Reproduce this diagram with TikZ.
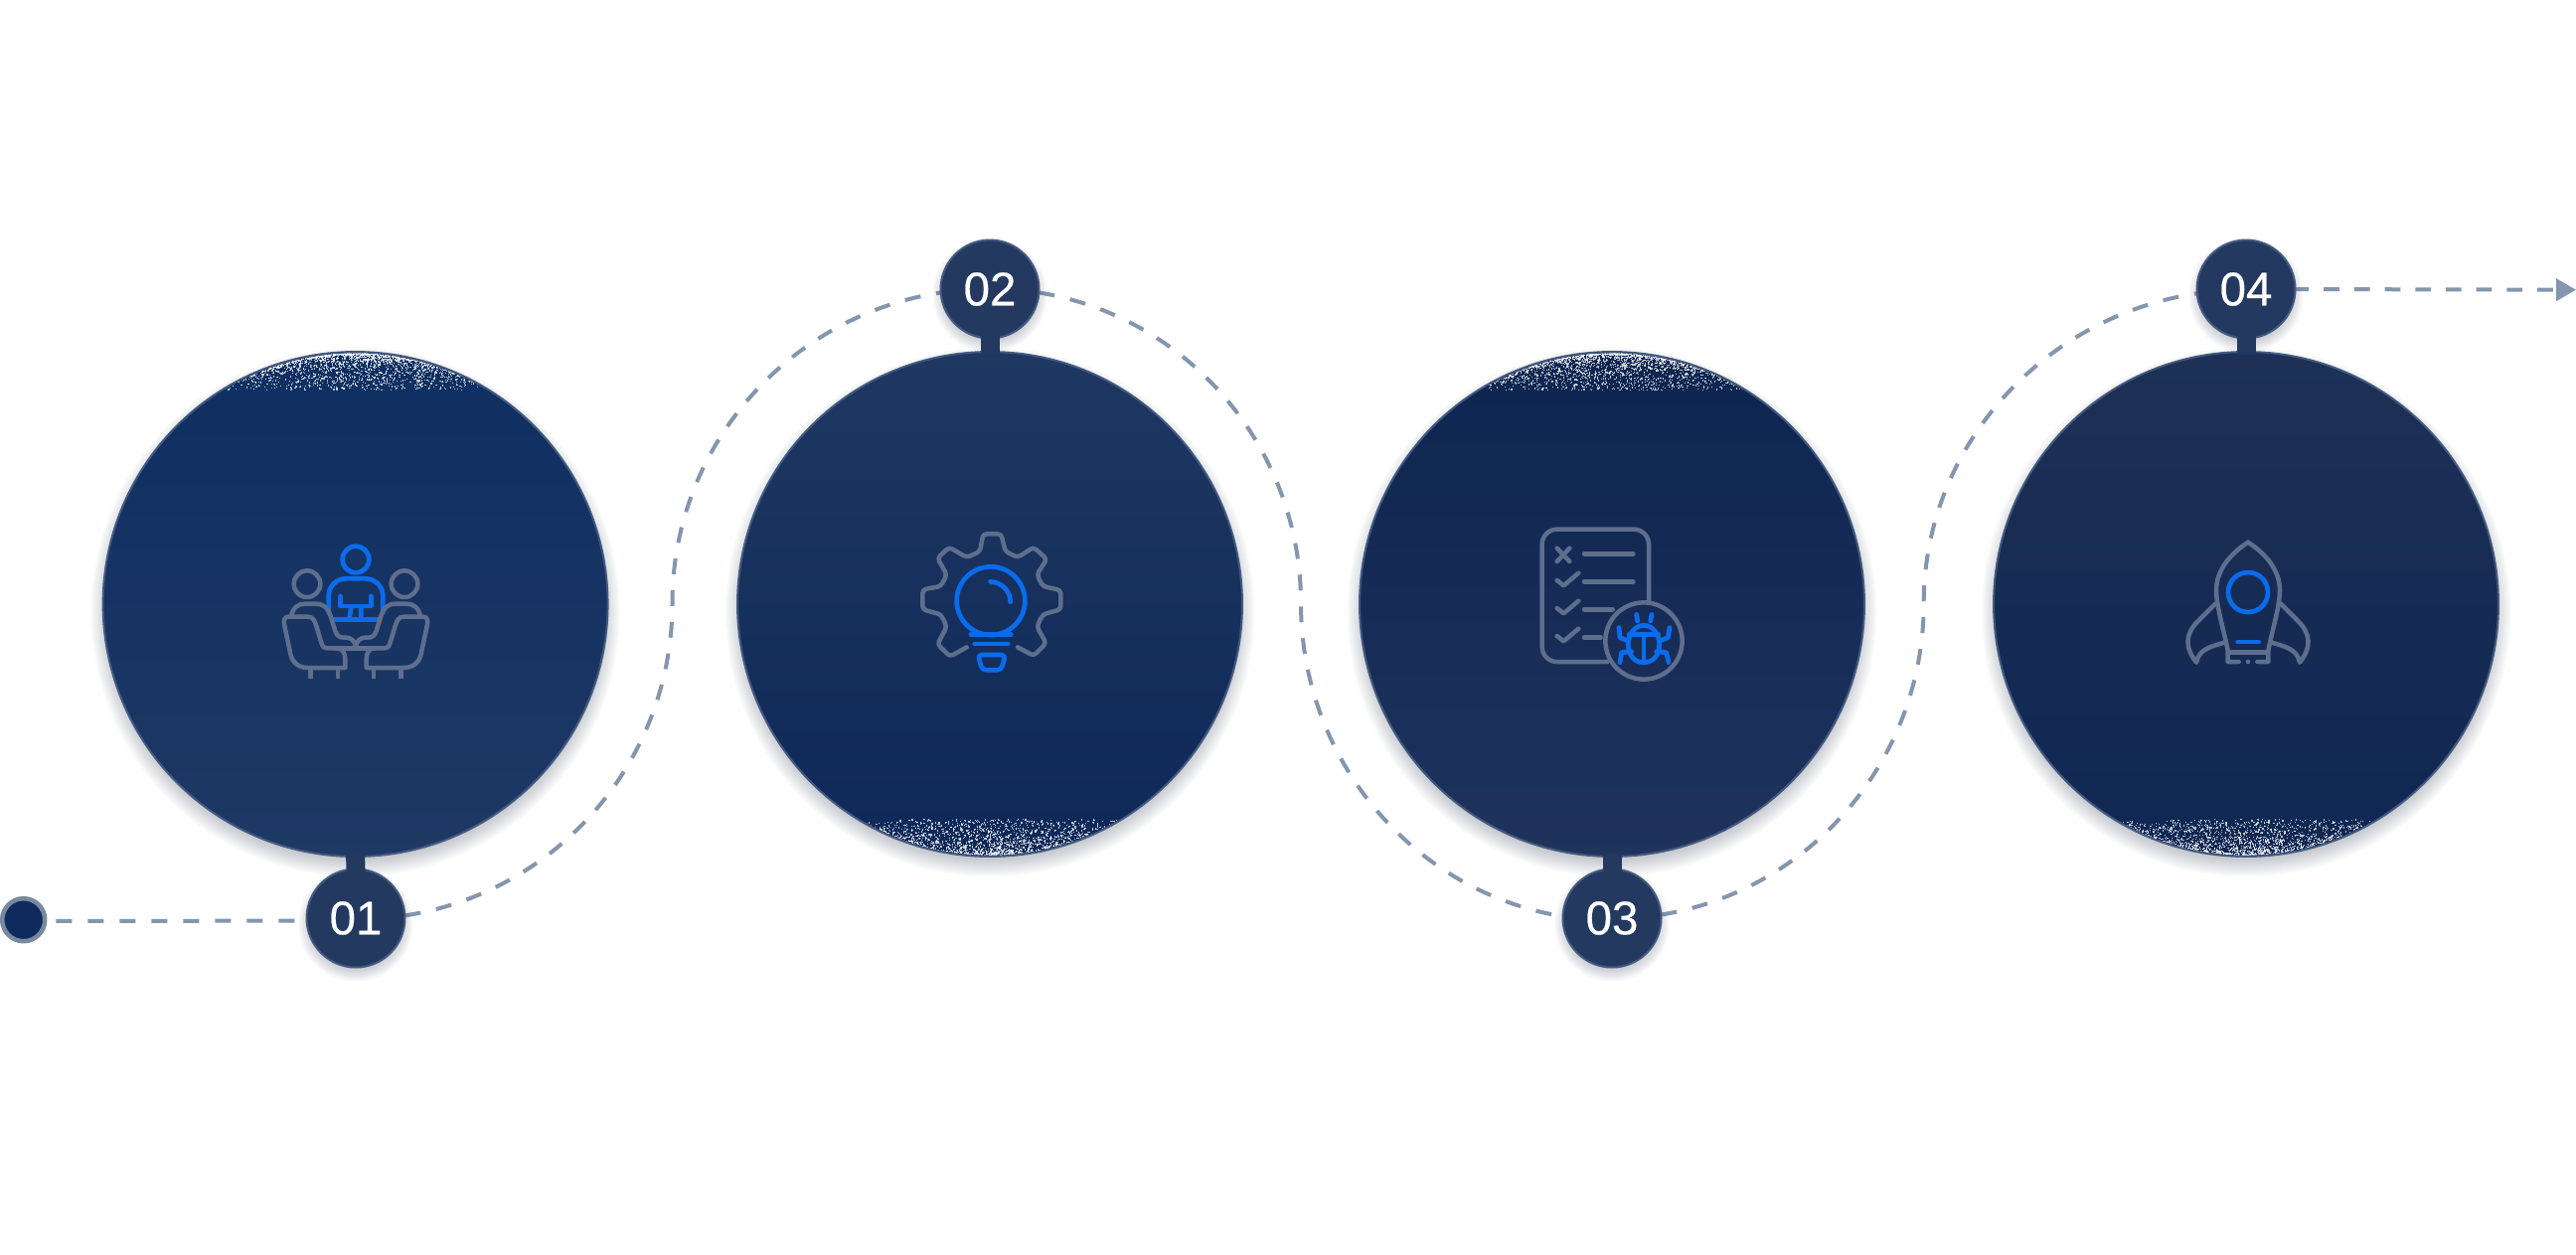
\documentclass[tikz,border=0pt]{standalone}
\usepackage{fontspec}
\setmainfont{Open Sans}
\newfontfamily\numfont[FakeBold=.5]{Liberation Sans}
\usetikzlibrary{arrows.meta,backgrounds}
\definecolor{linec}{HTML}{8496AD}
\definecolor{nodec}{HTML}{23395F}
\definecolor{rimc}{HTML}{44597F}
\definecolor{dotc}{HTML}{0F2A5C}
\definecolor{dotr}{HTML}{78899F}
\definecolor{icg}{HTML}{5E6E8C}
\definecolor{icb}{HTML}{0A6CEB}
\definecolor{shadowc}{HTML}{1A2540}
\definecolor{oneT}{HTML}{0E2F62}
\definecolor{oneB}{HTML}{1F3864}
\definecolor{twoT}{HTML}{1F3862}
\definecolor{twoB}{HTML}{0E2858}
\definecolor{thrT}{HTML}{0D2550}
\definecolor{thrB}{HTML}{1F335C}
\definecolor{fouT}{HTML}{1E3055}
\definecolor{fouB}{HTML}{0F2753}
\tikzset{
  x=.02cm,y=-.02cm,
  bigc/.style={circle,draw=rimc,line width=.04cm,minimum size=10.16cm,inner sep=0pt,outer sep=0pt},
  numc/.style={circle,draw=rimc,line width=.04cm,fill=nodec,minimum size=1.98cm,inner sep=0pt,outer sep=0pt,text=white,font=\numfont\fontsize{27}{30}\selectfont},
  dotnode/.style={circle,draw=dotr,line width=.09cm,fill=dotc,minimum size=.86cm,inner sep=0pt,outer sep=.045cm},
  flow/.style={draw=linec,line width=.08cm,dash pattern=on .32cm off .32cm},
  stemline/.style={draw=nodec,line width=.38cm,shorten <=-.06cm,shorten >=-.06cm},
  gline/.style={draw=icg,line width=.09cm,line cap=round,line join=round},
  bline/.style={draw=icb,line width=.095cm,line cap=round,line join=round},
  zoomed/.style={x=.0066667cm,y=-.0066667cm}
}
\newcommand{\softshadow}[3]{%
  \foreach \rr in {-10,-8,...,12}{\fill[shadowc,opacity=.028] (#1,#2+8) circle [radius=#3+\rr];}}
\newcommand{\noiseband}[3]{%
  \pgfmathsetseed{#3}
  \begin{scope}
  \clip (#1,608) circle [radius=252.5];
  \foreach \i in {1,...,1900}{%
    \pgfmathsetmacro{\dx}{129*(rnd-rnd)}%
    \pgfmathsetmacro{\hh}{254*sqrt(1-(\dx/254)*(\dx/254))}%
    \pgfmathsetmacro{\uu}{rnd}%
    \pgfmathsetmacro{\yy}{608+#2*(\hh-(\hh-217)*\uu*\uu*sqrt(\uu)-1)}%
    \fill[white,opacity=.72] (#1+\dx,\yy) rectangle ++(1.2,1.2);}
  \end{scope}}
\newcommand{\chairhalf}{%
  \draw[gline] (147,203) circle [radius=40];
  \draw[gline] (90,302) -- (150,302) .. controls (165,302) and (170,315) .. (175,330) -- (190,380) .. controls (193,392) and (198,397) .. (210,397) -- (235,397) .. controls (255,397) and (262,412) .. (262,430) -- (262,456) -- (150,456) .. controls (120,456) and (103,440) .. (97,415) -- (78,325) .. controls (75,312) and (80,302) .. (90,302) -- cycle;
  \draw[gline] (100,295) .. controls (105,275) and (120,263) .. (140,263) -- (175,263) .. controls (200,263) and (212,280) .. (218,300) -- (232,345) .. controls (236,358) and (245,365) .. (258,365) -- (265,365) .. controls (280,365) and (290,375) .. (293,388);
  \draw[gline,line cap=butt] (158,456) -- (158,488) (240,456) -- (240,488);}
\newcommand{\finhalf}{%
  \draw[gline] (276,77) .. controls (225,110) and (180,160) .. (180,222) .. controls (180,270) and (205,350) .. (215,405) -- (215,438) -- (248,438);
  \draw[gline] (178,262) -- (125,315) .. controls (85,355) and (85,395) .. (120,440) .. controls (128,405) and (150,395) .. (205,380);}
\begin{document}
\begin{tikzpicture}
\useasboundingbox (0,0) rectangle (2592,1262);

% shadows
\softshadow{357.6}{608}{254}
\softshadow{996}{608}{254}
\softshadow{1622}{608}{254}
\softshadow{2260}{608}{254}
\foreach \nx/\ny in {358/924,996/291,1622/924,2260/291}{
  \foreach \rr in {-4,-2,...,8}{\fill[shadowc,opacity=.035] (\nx,\ny+6) circle [radius=49.5+\rr];}}

% large circles
\node[bigc,top color=oneT,bottom color=oneB] (c1) at (357.6,608) {};
\node[bigc,top color=twoT,bottom color=twoB] (c2) at (996,608) {};
\node[bigc,top color=thrT,bottom color=thrB] (c3) at (1622,608) {};
\node[bigc,top color=fouT,bottom color=fouB] (c4) at (2260,608) {};

% numbered nodes, start dot, end of the line
\node[dotnode] (dot) at (23.7,925.7) {};
\node[numc] (n1) at (358,924) {01};
\node[numc] (n2) at (996,291) {02};
\node[numc] (n3) at (1622,924) {03};
\node[numc] (n4) at (2260,291) {04};
\coordinate (arrowend) at (2592,291.7);
\coordinate (m12) at (676.5,607);
\coordinate (m23) at (1309,607);
\coordinate (m34) at (1935.7,607);

% stems
\draw[stemline] (c1.south) -- (n1.north);
\draw[stemline] (c2.north) -- (n2.south);
\draw[stemline] (c3.south) -- (n3.north);
\draw[stemline] (c4.north) -- (n4.south);

% speckle
\noiseband{357.6}{-1}{11}
\noiseband{996}{1}{22}
\noiseband{1622}{-1}{33}
\noiseband{2260}{1}{44}

% connectors
\begin{pgfonlayer}{background}
\fill[white] (0,0) rectangle (2592,1262);
\draw[flow,shorten <=.18cm] (dot.-3) -- (n1.183);
\draw[flow] (n1.3) .. controls (562.6,897.5) and (676.5,764) .. (m12)
  .. controls (676.5,451.5) and (791.1,318.5) .. (n2.184);
\draw[flow] (n2.-4) .. controls (1197.5,319.2) and (1309,452.6) .. (m23)
  .. controls (1309,763.5) and (1420.4,897) .. (n3.178);
\draw[flow] (n3.4) .. controls (1823.8,895.7) and (1935.7,762.7) .. (m34)
  .. controls (1935.7,452.2) and (2053,319.2) .. (n4.185);
\draw[flow,dash pattern=on .314cm off .3cm,dash phase=.04cm,-{Triangle[length=.4cm,width=.44cm]},linec] (n4.east) -- (arrowend);
\end{pgfonlayer}

% icon 1
\begin{scope}[shift={(260,520)},zoomed]
  \draw[bline] (294,129) circle [radius=40];
  \draw[bline,rounded corners=.35cm] (212,290) -- (212,187) -- (376,187) -- (376,290);
  \draw[bline] (228,310) -- (360,310);
  \draw[bline] (248,240) -- (248,270) -- (340,270) -- (340,240);
  \draw[bline] (280,272) -- (275,306) (310,272) -- (310,306);
  \chairhalf
  \begin{scope}[shift={(588,0)},xscale=-1]
    \chairhalf
  \end{scope}
  \draw[gline] (235,397) -- (353,397);
\end{scope}

% icon 2
\begin{scope}[shift={(900,510)},zoomed]
  \draw[gline,rounded corners=.07cm] (218,424) -- (168,452) -- (130,415) -- (158,362) -- (140,325) -- (85,310) -- (85,250) -- (140,240) -- (158,205) -- (130,155) -- (165,122) -- (218,153) -- (258,135) -- (268,82) -- (322,82) -- (335,135) -- (372,153) -- (420,122) -- (460,158) -- (430,205) -- (448,240) -- (502,252) -- (502,310) -- (448,325) -- (430,362) -- (458,412) -- (420,450) -- (372,424);
  \draw[bline] (291,284) circle [radius=103];
  \draw[bline] (231,385) -- (352,385);
  \draw[bline] (290,226) .. controls (325,228) and (350,255) .. (350,287);
  \draw[bline] (242,414) -- (342,414);
  \draw[bline,rounded corners=.08cm] (252,447) -- (335,447) -- (322,493) -- (265,493) -- cycle;
\end{scope}

% icon 3
\begin{scope}[shift={(1530,510)},zoomed]
  \draw[gline,rounded corners=.3cm] (387,285) -- (387,68) -- (65,68) -- (65,468) -- (262,468);
  \draw[gline] (110,125) -- (148,165) (148,125) -- (110,165);
  \draw[gline] (192,142) -- (340,142) (192,226) -- (340,226) (192,310) -- (278,310) (192,395) -- (242,395);
  \foreach \dy in {0,84,168}{\draw[gline] (110,222+\dy) -- (130,238+\dy) -- (175,200+\dy);}
  \draw[gline] (372,405) circle [radius=116];
  \draw[bline] (372,358) .. controls (345,358) and (325,385) .. (325,415) .. controls (325,450) and (345,470) .. (372,470) .. controls (399,470) and (419,450) .. (419,415) .. controls (419,385) and (399,358) .. (372,358) -- cycle;
  \draw[bline] (328,385) -- (416,385) (372,385) -- (372,470);
  \draw[bline] (350,325) -- (353,345) (396,325) -- (392,345);
  \draw[bline] (297,365) -- (300,395) -- (325,405) (450,365) -- (445,395) -- (420,405);
  \draw[bline] (300,470) -- (305,440) -- (335,437) (447,470) -- (440,440) -- (410,437);
\end{scope}

% icon 4
\begin{scope}[shift={(2170,520)},zoomed]
  \finhalf
  \begin{scope}[shift={(552,0)},xscale=-1]
    \finhalf
  \end{scope}
  \draw[gline] (218,409) -- (335,409);
  \fill[icg] (276,438) circle [radius=7];
  \draw[bline] (276,228) circle [radius=60];
  \draw[bline] (245,378) -- (308,378);
\end{scope}
\end{tikzpicture}
\end{document}
